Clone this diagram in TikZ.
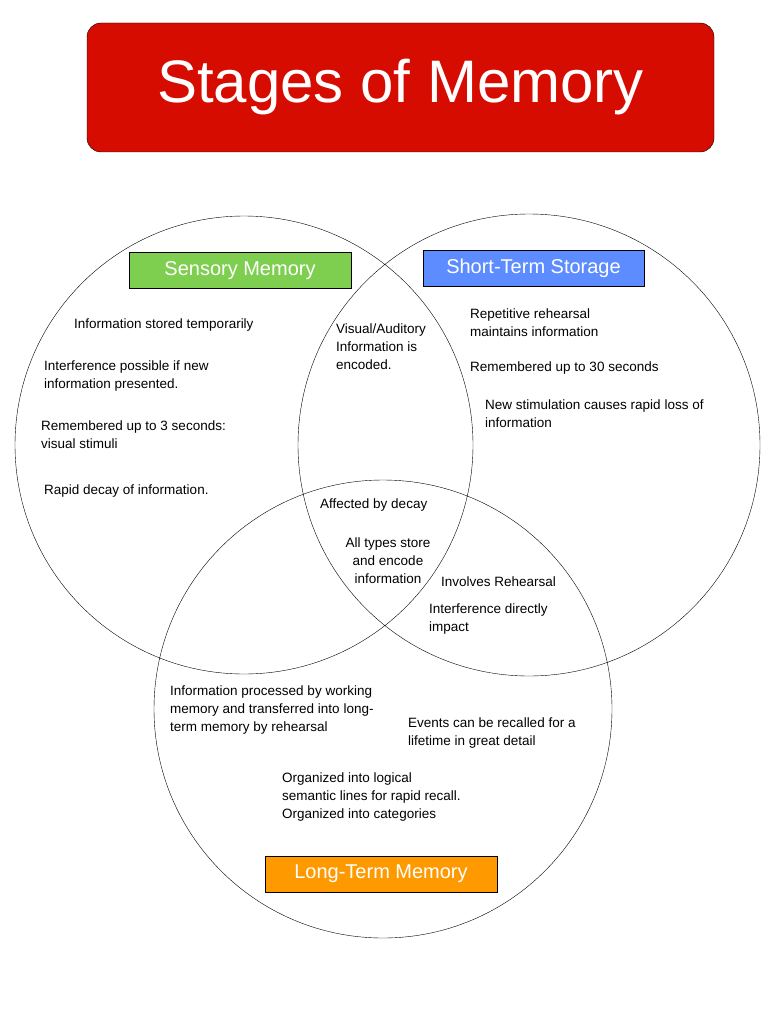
\documentclass[tikz,border=0pt]{standalone}
\usepackage{fontspec}
\setmainfont{Liberation Sans}
\usetikzlibrary{calc}
\usetikzlibrary{positioning}
\definecolor{titlered}{RGB}{214,12,0}
\definecolor{sensgreen}{RGB}{126,206,80}
\definecolor{stblue}{RGB}{92,140,255}
\definecolor{ltorange}{RGB}{255,153,0}
\tikzset{
  note/.style={anchor=north west,inner sep=0pt,align=left,font=\fontsize{13.5}{17.6}\selectfont},
  tag/.style={draw,thick,inner sep=0pt,text=white,font=\fontsize{20}{24}\selectfont,minimum height=36pt}
}
\begin{document}
\begin{tikzpicture}[x=1pt,y=-1pt]
    \useasboundingbox (0,0) rectangle (768,1024);
    \pgfmathsetmacro{\r}{229}
    % title
    \node[draw,fill=titlered,rounded corners=14pt,minimum width=627pt,minimum height=129pt,
      text=white,font=\fontsize{60}{70}\selectfont] (title) at (400.5,87.5) {Stages of Memory};
    % circles
    \path (244,445) coordinate (S) (529,445) coordinate (T) (383,709) coordinate (L);
    \draw (S) circle (\r) (T) circle (231) (L) circle (\r);
    % labels
    \node[tag,fill=sensgreen,minimum width=222pt] (sens) at (240,270.5) {Sensory Memory};
    \node[tag,fill=stblue,minimum width=221pt] (sts) at (533.5,268) {Short-Term Storage};
    \node[tag,fill=ltorange,minimum width=232pt] (ltm) at (381,874) {Long-Term Memory};
    % sensory
    \node[note] (s1) at (74,319) {Information stored temporarily};
    \node[note] (s2) at (44,361) {Interference possible if new\\information presented.};
    \node[note] (s3) at (41,421) {Remembered up to 3 seconds:\\visual stimuli};
    \node[note] (s4) at (44,485) {Rapid decay of information.};
    % short term
    \node[note] (t1) at (470,309) {Repetitive rehearsal\\maintains information};
    \node[note] (t2) at (470,362) {Remembered up to 30 seconds};
    \node[note] (t3) at (485,400) {New stimulation causes rapid loss of\\information};
    % overlaps
    \node[note] (st) at (336,324) {Visual/Auditory\\Information is\\encoded.};
    \node[note] (sl) at (320,499) {Affected by decay};
    \node[note,anchor=north,align=center] (all) at (388,538) {All types store\\and encode\\information};
    \node[note] (tl1) at (441,577) {Involves Rehearsal};
    \node[note] (tl2) at (429,604) {Interference directly\\impact};
    % long term
    \node[note] (l1) at (170,686) {Information processed by working\\memory and transferred into long-\\term memory by rehearsal};
    \node[note] (l2) at (408,718) {Events can be recalled for a\\lifetime in great detail};
    \node[note] (l3) at (282,773) {Organized into logical\\semantic lines for rapid recall.\\Organized into categories};
\end{tikzpicture}
\end{document}
